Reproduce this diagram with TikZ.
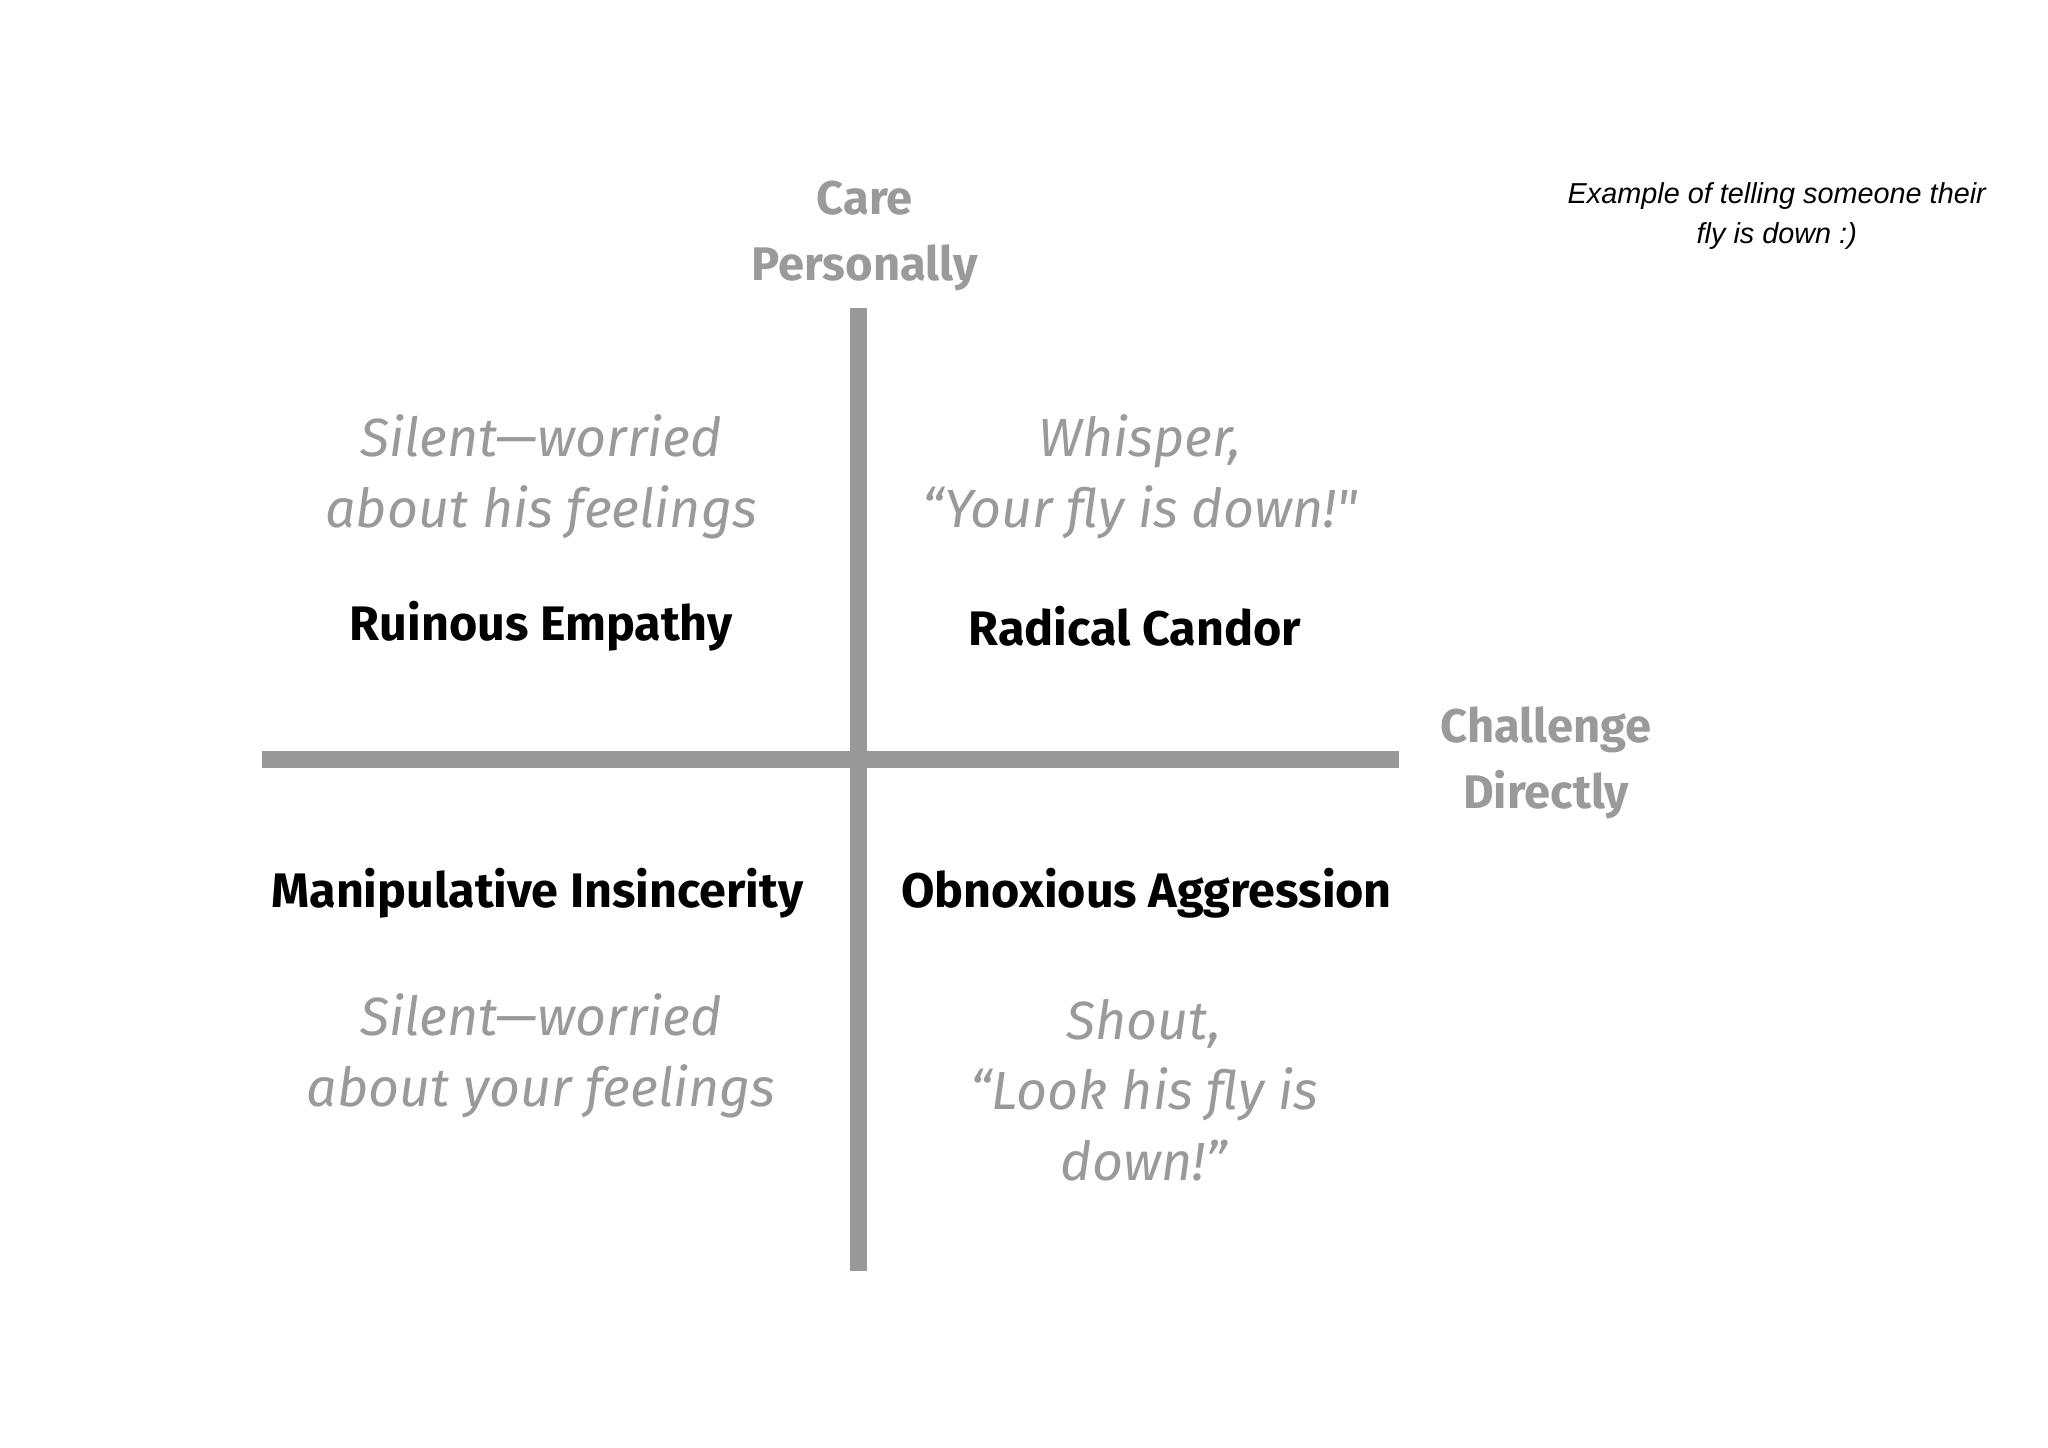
\documentclass[tikz,border=0pt]{standalone}
\usepackage{fontspec}
\setmainfont{Fira Sans}
\newfontfamily\notefont{Liberation Sans}
\definecolor{axisgray}{HTML}{999999}
\definecolor{txtgray}{HTML}{9A9A9A}
\begin{document}
\begin{tikzpicture}[x=1pt,y=-1pt,
  axis/.style={draw=axisgray,line width=13pt},
  quote/.style={text=txtgray,font=\fontsize{41}{54}\selectfont\itshape,align=center,inner sep=0},
  quadname/.style={text=black,font=\fontsize{37}{40}\selectfont\bfseries,inner sep=0},
  axlab/.style={text=txtgray,font=\fontsize{36}{50}\selectfont\bfseries,align=center,inner sep=0},
  note/.style={font=\fontsize{22}{30}\selectfont\notefont\itshape,align=center,inner sep=0}]
\useasboundingbox (0,0) rectangle (1563,1105);
\coordinate (vt) at (655,235); \coordinate (vb) at (655,970);
\coordinate (hl) at (200,580); \coordinate (hr) at (1068,580);
\draw[axis] (vt) -- (vb);
\draw[axis] (hl) -- (hr);
\node[axlab] (care) at (660,180) {Care\\Personally};
\node[axlab] (chal) at (1180,582) {Challenge\\Directly};
\node[note] (n) at (1356,165) {Example of telling someone their\\fly is down :)};
\node[quote] (q1) at (413,364) {Silent—worried\\about his feelings};
\node[quote] (q2) at (870,364) {Whisper,\\“Your fly is down!\textquotedbl};
\node[quadname] (re) at (413,478) {Ruinous Empathy};
\node[quadname] (rc) at (866,478) {Radical Candor};
\node[quadname] (mi) at (410,682) {Manipulative Insincerity};
\node[quadname] (oa) at (875,682) {Obnoxious Aggression};
\node[quote] (q3) at (413,806) {Silent—worried\\about your feelings};
\node[quote] (q4) at (873,832) {Shout,\\“Look his fly is\\down!”};
\end{tikzpicture}
\end{document}
